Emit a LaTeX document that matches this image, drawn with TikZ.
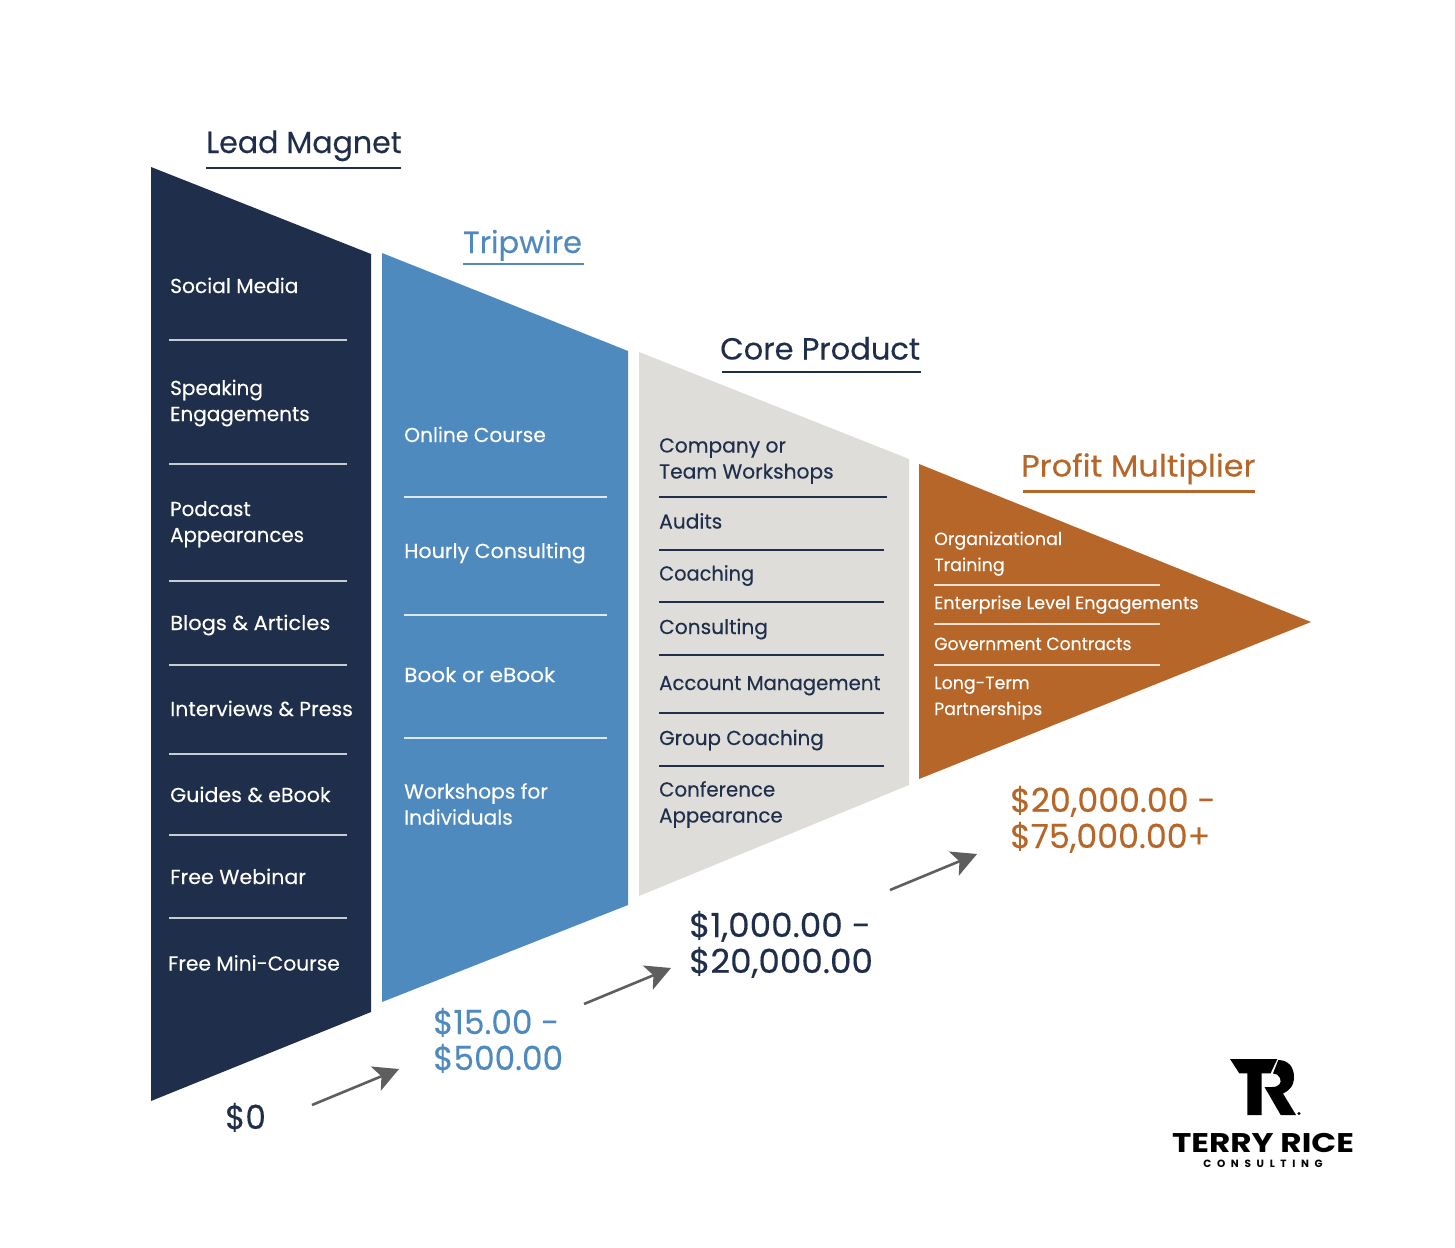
\documentclass[tikz,border=0pt]{standalone}
\usepackage{fontspec}
\setmainfont{Poppins}[UprightFeatures={FakeBold=0.25}]
\usetikzlibrary{arrows.meta}
\definecolor{navy}{HTML}{1F2E4A}
\definecolor{tblue}{HTML}{4F8ABF}
\definecolor{lgrey}{HTML}{DEDDDA}
\definecolor{orng}{HTML}{B66628}
\definecolor{arrowgrey}{HTML}{5E5E5E}
\tikzset{
 item/.style={anchor=base west,inner sep=0pt,text=#1,font=\fontsize{20.2}{26}\selectfont,align=left},
 smallitem/.style={anchor=base west,inner sep=0pt,text=white,font=\fontsize{17.7}{26}\selectfont,align=left},
 heading/.style={anchor=base west,inner sep=0pt,text=#1,font=\fontsize{30.5}{34}\selectfont},
 price/.style={anchor=base west,inner sep=0pt,text=#1,font=\fontsize{33.2}{36}\selectfont,align=left},
 divider/.style={draw=#1,line width=1.1pt},
 flow/.style={draw=arrowgrey,line width=2.6pt,-{Stealth[length=25pt,width=26pt,inset=6pt]}},
}
\begin{document}
\begin{tikzpicture}[x=1pt,y=-1pt]
\useasboundingbox[fill=white] (0,0) rectangle (1455,1247);
\fill[navy] (151,167)--(371,254)--(371,1012)--(151,1101)--cycle;
\fill[tblue] (382,253)--(628,351)--(628,905)--(382,1002)--cycle;
\fill[lgrey] (639,352)--(909,459)--(909,785)--(639,896)--cycle;
\fill[orng] (919,464)--(1311,622)--(919,779)--cycle;
% headings
\node[heading=navy,xscale=0.985] (h1) at (206,153) {Lead Magnet};
\draw[navy,line width=2pt] (206,167.5)--(401,167.5);
\node[heading=tblue] (h2) at (463,253) {Tripwire};
\draw[tblue,line width=2pt] (463,264)--(584,264);
\node[heading=navy] (h3) at (720,359.5) {Core Product};
\draw[navy,line width=2pt] (722,371.5)--(921,371.5);
\node[heading=orng,xscale=1.05] (h4) at (1021,476.5) {Profit Multiplier};
\draw[orng,line width=3pt] (1023,491)--(1255,491);
% column 1
\node[item=white] (a1) at (170,293) {Social Media};
\node[item=white,xscale=0.99] (a2) at (170,421) {Speaking\\Engagements};
\node[item=white,xscale=0.98] (a3) at (170,542) {Podcast\\Appearances};
\node[item=white,xscale=1.04] (a4) at (170,630) {Blogs \& Articles};
\node[item=white,xscale=1.016] (a5) at (170,716) {Interviews \& Press};
\node[item=white,xscale=1.02] (a6) at (170,802) {Guides \& eBook};
\node[item=white,xscale=1.02] (a7) at (170,884) {Free Webinar};
\node[item=white] (a8) at (168,970.5) {Free Mini-Course};
\foreach \y in {340,464,581,665,754,835,918}
  \draw[divider=white!75!navy] (169,\y)--(347,\y);
% column 2
\node[item=white] (b1) at (404,442) {Online Course};
\node[item=white,xscale=1.02] (b2) at (404,558) {Hourly Consulting};
\node[item=white,xscale=1.07] (b3) at (404,682) {Book or eBook};
\node[item=white] (b4) at (404,824.5) {Workshops for\\Individuals};
\foreach \y in {497,615,738}
  \draw[divider=white!80!tblue] (404,\y)--(607,\y);
% column 3
\node[item=navy] (c1) at (659,478.5) {Company or\\Team Workshops};
\node[item=navy] (c2) at (659,528.5) {Audits};
\node[item=navy,xscale=0.96] (c3) at (659,580.5) {Coaching};
\node[item=navy] (c4) at (659,634) {Consulting};
\node[item=navy,xscale=0.975] (c5) at (659,690) {Account Management};
\node[item=navy,xscale=0.985] (c6) at (659,745) {Group Coaching};
\node[item=navy,xscale=0.98] (c7) at (659,822.5) {Conference\\Appearance};
\foreach \y/\x in {497/887,550/884,602/884,655/884,713/884,766/884}
  \draw[divider=navy] (659,\y)--(\x,\y);
% column 4
\node[smallitem,xscale=0.985] (d1) at (934,571) {Organizational\\Training};
\node[smallitem] (d2) at (934,609) {Enterprise Level Engagements};
\node[smallitem,xscale=0.97] (d3) at (934,650) {Government Contracts};
\node[smallitem,xscale=0.98] (d4) at (934,715) {Long-Term\\Partnerships};
\foreach \y in {585,624,665}
  \draw[divider=white!80!orng] (934,\y)--(1160,\y);
% prices
\node[price=navy,xscale=0.98] (p1) at (225,1129) {\$0};
\node[price=tblue,xscale=0.985] (p2) at (433,1070) {\$15.00 -\\\$500.00};
\node[price=navy,xscale=1.03] (p3) at (689,973) {\$1,000.00 -\\\$20,000.00};
\node[price=orng] (p4) at (1010,848) {\$20,000.00 -\\\$75,000.00+};
% arrows
\coordinate (s1) at (312,1105); \coordinate (e1) at (399,1069);
\coordinate (s2) at (584,1004); \coordinate (e2) at (671,968);
\coordinate (s3) at (890,890);  \coordinate (e3) at (977,854);
\draw[flow] (s1)--(e1);
\draw[flow] (s2)--(e2);
\draw[flow] (s3)--(e3);
% logo
\fill[black] (1230,1059)--(1277.3,1059)--(1270.5,1073.3)--(1261.7,1073.3)--(1261.7,1115)--(1247.3,1115)--(1247.3,1073.3)--(1239.3,1073.3)--cycle;
\fill[black] (1278.3,1060) .. controls (1289,1060) and (1294,1068) .. (1294,1077)
  .. controls (1294,1086) and (1289,1091) .. (1283,1093.5)
  --(1296,1115)--(1280.7,1115)--(1264.5,1087)--(1272,1087)
  .. controls (1279,1087) and (1282,1083) .. (1280,1078)
  .. controls (1279,1075) and (1276,1073.5) .. (1273,1073.5)--cycle;
\fill[black] (1299,1113.5) circle (1.6);
\node[anchor=base,inner sep=0pt,xscale=1.21,font=\fontsize{27}{30}\bfseries\selectfont,text=black] (lg1) at (1263,1152) {TERRY RICE};
\node[anchor=base,inner sep=0pt,font=\fontsize{10.5}{12}\bfseries\selectfont\addfontfeature{LetterSpace=54},text=black] (lg2) at (1263,1167) {CONSULTING};
\end{tikzpicture}
\end{document}
